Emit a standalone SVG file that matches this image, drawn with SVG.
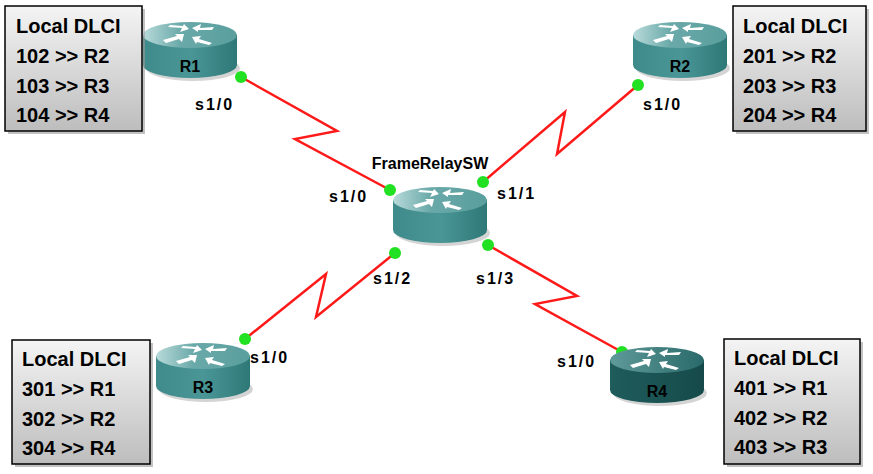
<svg xmlns="http://www.w3.org/2000/svg" width="873" height="474" viewBox="0 0 873 474">
<defs>
<linearGradient id="box" x1="0" y1="0" x2="0" y2="1"><stop offset="0" stop-color="#f4f4f4"/><stop offset="1" stop-color="#bdbdbd"/></linearGradient>
<linearGradient id="body" x1="0" y1="0" x2="1" y2="0"><stop offset="0" stop-color="#3f8b8b"/><stop offset="0.5" stop-color="#4a9696"/><stop offset="1" stop-color="#2f7878"/></linearGradient>
<linearGradient id="top" x1="0" y1="0" x2="1" y2="0"><stop offset="0" stop-color="#b9dada"/><stop offset="0.4" stop-color="#6aa9a9"/><stop offset="1" stop-color="#5a9e9e"/></linearGradient>
<linearGradient id="body4" x1="0" y1="0" x2="1" y2="0"><stop offset="0" stop-color="#1f5c5c"/><stop offset="1" stop-color="#164a4a"/></linearGradient>
<linearGradient id="top4" x1="0" y1="0" x2="1" y2="0"><stop offset="0" stop-color="#5f9a9a"/><stop offset="1" stop-color="#2a6a6a"/></linearGradient>
<g id="arrows" fill="#ffffff">
<path d="M-22,-8 L-8,-7 L-10,-3 L-1,-6 L-6,-11 L-7,-9 L-20,-10 Z"/>
<path d="M24,-8 L10,-7 L11,-11 L2,-7 L8,-3 L8,-5 L22,-5 Z"/>
<path d="M-24,8 L-11,4 L-8,7 L-6,-1 L-15,-1 L-13,1 L-27,5 Z"/>
<path d="M22,8 L9,4 L11,1 L2,2 L6,9 L7,7 L19,10 Z"/>
</g>
</defs>
<style>
.bx{fill:url(#box);stroke:#000;stroke-width:1.5}
.sh{fill:#999;opacity:0.6}
.bt{font-family:"Liberation Sans",Arial,sans-serif;font-weight:bold;font-size:20px;fill:#000}
.lb{font-family:"Liberation Sans",Arial,sans-serif;font-weight:bold;font-size:16px;letter-spacing:2px;fill:#000}
.rl{font-family:"Liberation Sans",Arial,sans-serif;font-weight:bold;font-size:16px;fill:#000;text-anchor:middle}
.ln{fill:none;stroke:#ff1a1a;stroke-width:2.5}
.dt{fill:#22e022}
</style>
<g id="connectors">
<polyline class="ln" points="241,77 337,131 295,139 390,190"/>
<polyline class="ln" points="638,85 557,154 565,112 483,182"/>
<polyline class="ln" points="245,339 326,274 316,317 395,253"/>
<polyline class="ln" points="488,245 577,296 535,304 622,352"/>
<circle class="dt" cx="241" cy="77" r="6"/><circle class="dt" cx="390" cy="190" r="6"/>
<circle class="dt" cx="638" cy="85" r="6"/><circle class="dt" cx="483" cy="182" r="6"/>
<circle class="dt" cx="245" cy="339" r="6"/><circle class="dt" cx="395" cy="253" r="6"/>
<circle class="dt" cx="488" cy="245" r="6"/><circle class="dt" cx="622" cy="352" r="6"/>
</g>
<g id="R1" transform="translate(190,35)">
<ellipse cx="3" cy="33" rx="47" ry="13" fill="#aaa" opacity="0.5"/>
<path d="M-47,0 V30 A47,13 0 0 0 47,30 V0 Z" fill="url(#body)"/>
<ellipse cx="0" cy="0" rx="47" ry="13" fill="url(#top)"/><use href="#arrows"/>
<text class="rl" x="0" y="37">R1</text></g>
<g id="R2" transform="translate(680,35)">
<ellipse cx="3" cy="33" rx="47" ry="13" fill="#aaa" opacity="0.5"/>
<path d="M-47,0 V30 A47,13 0 0 0 47,30 V0 Z" fill="url(#body)"/>
<ellipse cx="0" cy="0" rx="47" ry="13" fill="url(#top)"/><use href="#arrows"/>
<text class="rl" x="0" y="37">R2</text></g>
<g id="SW" transform="translate(440,200)">
<ellipse cx="3" cy="33" rx="47" ry="13" fill="#aaa" opacity="0.5"/>
<path d="M-47,0 V30 A47,13 0 0 0 47,30 V0 Z" fill="url(#body)"/>
<ellipse cx="0" cy="0" rx="47" ry="13" fill="url(#top)"/><use href="#arrows"/>
<text class="rl" x="-10" y="-31" font-size="17">FrameRelaySW</text></g>
<g id="R3" transform="translate(203,356)">
<ellipse cx="3" cy="33" rx="47" ry="13" fill="#aaa" opacity="0.5"/>
<path d="M-47,0 V30 A47,13 0 0 0 47,30 V0 Z" fill="url(#body)"/>
<ellipse cx="0" cy="0" rx="47" ry="13" fill="url(#top)"/><use href="#arrows"/>
<text class="rl" x="0" y="37">R3</text></g>
<g id="R4" transform="translate(657,360)">
<ellipse cx="3" cy="33" rx="47" ry="13" fill="#aaa" opacity="0.5"/>
<path d="M-47,0 V30 A47,13 0 0 0 47,30 V0 Z" fill="url(#body4)"/>
<ellipse cx="0" cy="0" rx="47" ry="13" fill="url(#top4)"/><use href="#arrows"/>
<text class="rl" x="0" y="37">R4</text></g>
<g id="labels">
<text class="lb" x="195" y="110">s1/0</text>
<text class="lb" x="643" y="110">s1/0</text>
<text class="lb" x="329" y="202">s1/0</text>
<text class="lb" x="497" y="199">s1/1</text>
<text class="lb" x="373" y="284">s1/2</text>
<text class="lb" x="476" y="284">s1/3</text>
<text class="lb" x="250" y="363">s1/0</text>
<text class="lb" x="557" y="367">s1/0</text>
</g>
<g id="box1"><rect class="sh" x="8" y="9" width="137" height="125"/><rect class="bx" x="5" y="6" width="137" height="125"/>
<text class="bt" x="16" y="33">Local DLCI</text><text class="bt" x="16" y="63">102 &gt;&gt; R2</text><text class="bt" x="16" y="93">103 &gt;&gt; R3</text><text class="bt" x="16" y="122">104 &gt;&gt; R4</text></g>
<g id="box2"><rect class="sh" x="736" y="9" width="133" height="125"/><rect class="bx" x="733" y="6" width="133" height="125"/>
<text class="bt" x="743" y="33">Local DLCI</text><text class="bt" x="743" y="63">201 &gt;&gt; R2</text><text class="bt" x="743" y="93">203 &gt;&gt; R3</text><text class="bt" x="743" y="122">204 &gt;&gt; R4</text></g>
<g id="box3"><rect class="sh" x="15" y="343" width="138" height="124"/><rect class="bx" x="12" y="340" width="138" height="124"/>
<text class="bt" x="22" y="366">Local DLCI</text><text class="bt" x="22" y="396">301 &gt;&gt; R1</text><text class="bt" x="22" y="426">302 &gt;&gt; R2</text><text class="bt" x="22" y="455">304 &gt;&gt; R4</text></g>
<g id="box4"><rect class="sh" x="727" y="342" width="136" height="125"/><rect class="bx" x="724" y="339" width="136" height="125"/>
<text class="bt" x="734" y="365">Local DLCI</text><text class="bt" x="734" y="395">401 &gt;&gt; R1</text><text class="bt" x="734" y="425">402 &gt;&gt; R2</text><text class="bt" x="734" y="454">403 &gt;&gt; R3</text></g>
</svg>
